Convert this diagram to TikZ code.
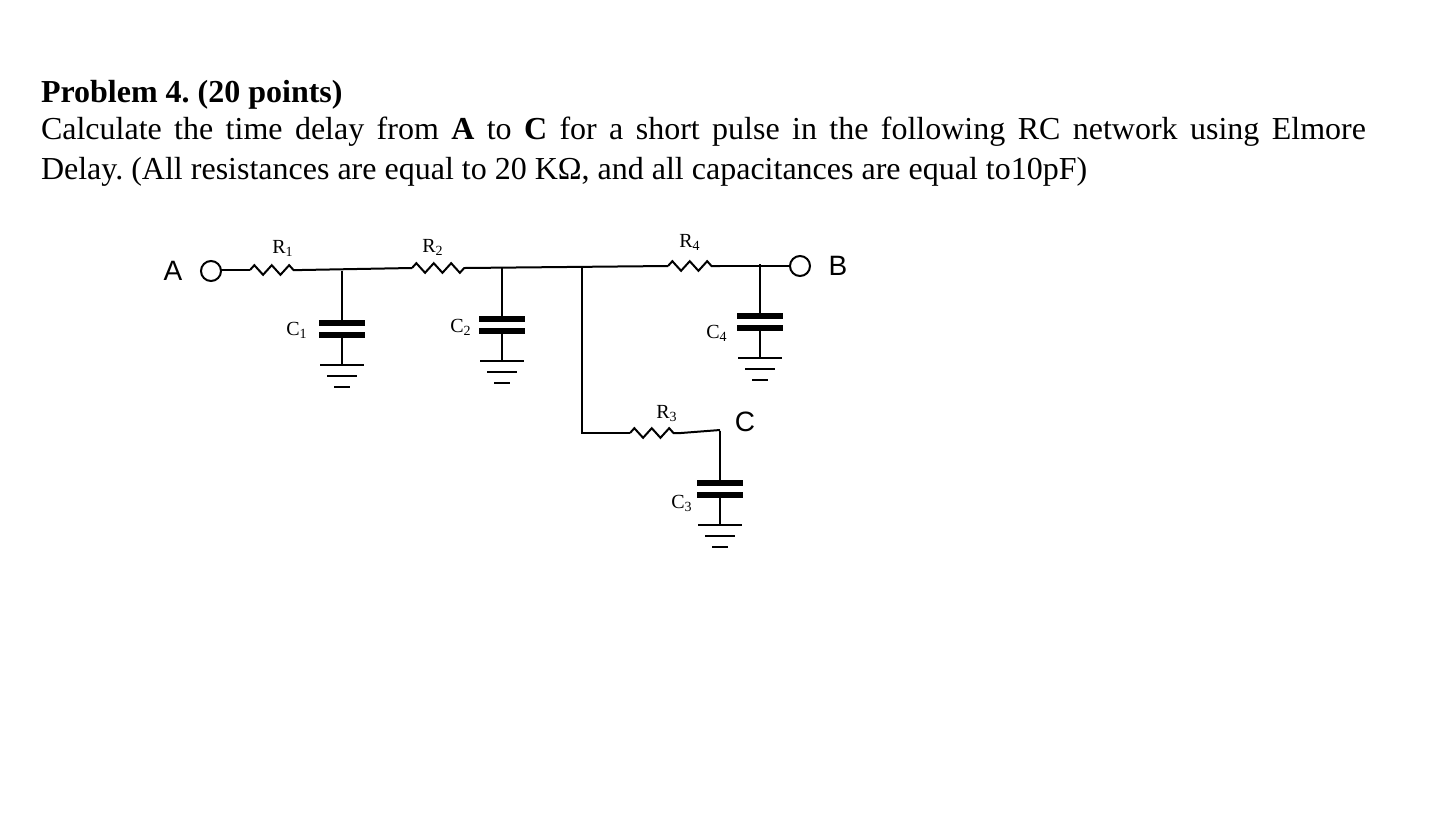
\documentclass[tikz,border=0pt]{standalone}
\usepackage{fontspec}
\setmainfont{Liberation Serif}
\newfontfamily\lsans{Liberation Sans}
\usetikzlibrary{decorations.pathmorphing}
\begin{document}
\frenchspacing
\begin{tikzpicture}[x=0.5pt,y=-0.5pt,line width=1pt,
  res/.style={decorate,decoration={zigzag,segment length=8.7pt,amplitude=2.4pt}},
  plate/.style={line width=3pt},
  lab/.style={font=\fontsize{10}{10}\selectfont,inner sep=0pt},
  term/.style={font=\lsans\fontsize{14}{14}\selectfont,inner sep=0pt}]
\useasboundingbox (0,0) rectangle (1434,830);
\node[anchor=north west,inner sep=0pt,text width=662.5pt,align=justify,font=\fontsize{16}{20}\selectfont] (txt) at (40,79)
{\textbf{Problem 4. (20 points)}\\[-1.5pt]
Calculate the time delay from \textbf{A} to \textbf{C} for a short pulse in the following RC network using Elmore\linebreak Delay. (All resistances are equal to 20 KΩ, and all capacitances are equal to10pF)};
\coordinate (a) at (221,270);
\coordinate (r1a) at (250,270); \coordinate (r1b) at (302,270);
\coordinate (n1) at (342,269);
\coordinate (r2a) at (412,268); \coordinate (r2b) at (465,268);
\coordinate (n2) at (502,267);
\coordinate (br) at (582,267);
\coordinate (r4a) at (668,266); \coordinate (r4b) at (720,266);
\coordinate (n4) at (760,266);
\coordinate (b) at (790,266);
\coordinate (bot) at (582,433);
\coordinate (r3a) at (630,433); \coordinate (r3b) at (681,433);
\coordinate (n3) at (720,430);
\draw (211,271) circle (10) (800,266) circle (10);
\node[term] (A) at (173,271) {A};
\node[term] (B) at (838,266) {B};
\node[term] (C) at (745,422) {C};
\draw (a) -- (r1a); \draw[res] (r1a) -- (r1b); \draw (r1b) -- (r2a);
\draw[res] (r2a) -- (r2b); \draw (r2b) -- (r4a); \draw[res] (r4a) -- (r4b);
\draw (r4b) -- (b);
\draw (br) -- (bot) -- (r3a); \draw[res] (r3a) -- (r3b); \draw (r3b) -- (n3);
\foreach \x/\y in {342/323, 502/319, 760/316, 720/483}{
  \draw (\x,\y-52) -- (\x,\y);
  \draw[plate] (\x-23,\y) -- (\x+23,\y);
  \draw[plate] (\x-23,\y+12) -- (\x+23,\y+12);
  \draw (\x,\y+12) -- (\x,\y+42);
  \draw (\x-22,\y+42) -- (\x+22,\y+42);
  \draw (\x-15,\y+53) -- (\x+15,\y+53);
  \draw (\x-8,\y+64) -- (\x+8,\y+64);
}
\node[lab] (R1) at (283,248) {R\textsubscript{1}};
\node[lab] (R2) at (433,247) {R\textsubscript{2}};
\node[lab] (R4) at (690,242) {R\textsubscript{4}};
\node[lab] (R3) at (667,414) {R\textsubscript{3}};
\node[lab] (C1) at (297,330) {C\textsubscript{1}};
\node[lab] (C2) at (461,327) {C\textsubscript{2}};
\node[lab] (C4) at (717,333) {C\textsubscript{4}};
\node[lab] (C3) at (682,503) {C\textsubscript{3}};
\end{tikzpicture}
\end{document}
